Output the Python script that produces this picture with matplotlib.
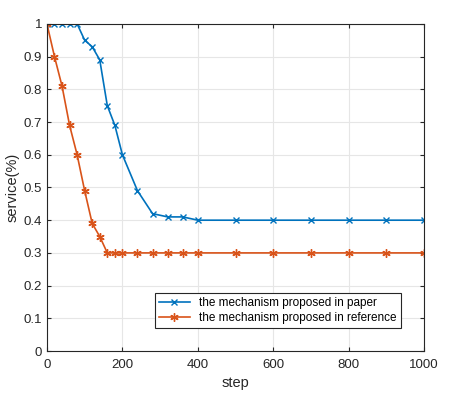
import matplotlib.pyplot as plt

steps = [0, 20, 40, 60, 80, 100, 120, 140, 160, 180, 200, 240, 280, 320, 360, 400,
         500, 600, 700, 800, 900, 1000]
paper = [1.0, 1.0, 1.0, 1.0, 1.0, 0.95, 0.93, 0.89, 0.75, 0.69, 0.60, 0.49, 0.42, 0.41, 0.41, 0.40,
         0.40, 0.40, 0.40, 0.40, 0.40, 0.40]
reference = [1.0, 0.90, 0.81, 0.69, 0.60, 0.49, 0.39, 0.35, 0.30, 0.30, 0.30, 0.30, 0.30, 0.30, 0.30, 0.30,
             0.30, 0.30, 0.30, 0.30, 0.30, 0.30]
labels = ['the mechanism proposed in paper', 'the mechanism proposed in reference']

plt.rcParams['font.family'] = ['Liberation Sans', 'DejaVu Sans']

fig = plt.figure(figsize=(4.74, 4.04), dpi=100)
ax = fig.add_axes([0.099, 0.131, 0.796, 0.810])

ax.plot(steps, paper, color='#0072BD', marker='x', markersize=5, lw=1.2, label=labels[0])
ax.plot(steps, reference, color='#D95319', marker=(6, 2, 0), markersize=6, lw=1.2, label=labels[1])

ax.set_xlim(0, 1000)
ax.set_ylim(0, 1)
ax.set_xticks([0, 200, 400, 600, 800, 1000])
ax.set_yticks([0, 0.1, 0.2, 0.3, 0.4, 0.5, 0.6, 0.7, 0.8, 0.9, 1])
ax.set_yticklabels(['0', '0.1', '0.2', '0.3', '0.4', '0.5', '0.6', '0.7', '0.8', '0.9', '1'])
ax.tick_params(direction='in', top=True, right=True, labelsize=9.5, colors='#262626', length=3)
ax.tick_params(axis='x', pad=6)
ax.grid(True, color='#e6e6e6', lw=0.8)
ax.set_axisbelow(True)
for s in ax.spines.values():
    s.set_color('#262626')
    s.set_linewidth(0.8)

ax.set_xlabel('step', fontsize=10.5, color='#262626', labelpad=3)
ax.set_ylabel('service(%)', fontsize=10.5, color='#262626', labelpad=3)

leg = ax.legend(loc='lower left', bbox_to_anchor=(0.286, 0.07), borderaxespad=0,
                fontsize=8.5, fancybox=False, framealpha=1, edgecolor='#262626',
                handlelength=2.6, borderpad=0.35, labelspacing=0.25)
leg.get_frame().set_linewidth(0.8)

plt.savefig('out.png', dpi=100)
